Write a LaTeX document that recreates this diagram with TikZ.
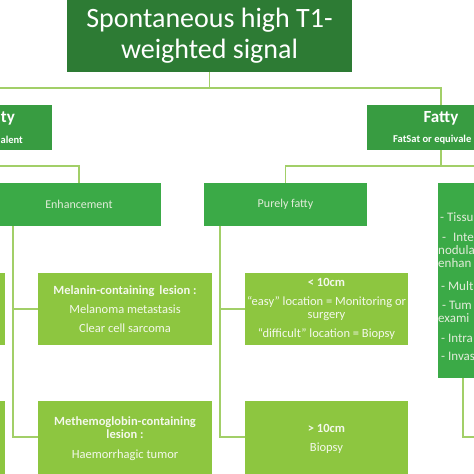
\documentclass[tikz,border=0pt]{standalone}
\usepackage{fontspec}
\setmainfont{Carlito}
\usepackage{xcolor}
\usepackage{tikz}
\usetikzlibrary{positioning}

\definecolor{titlegreen}{HTML}{2D7B34}
\definecolor{fatgreen}{HTML}{389C41}
\definecolor{midgreen}{HTML}{3BAA47}
\definecolor{lightgreen}{HTML}{8DC640}
\definecolor{linegreen}{HTML}{A2CF68}
\definecolor{softwhite}{HTML}{E2ECDA}
\definecolor{leafwhite}{HTML}{F4F8EC}

\begin{document}
\begin{tikzpicture}[
    x=1pt, y=-1pt,
    box/.style={rectangle, draw=none, inner sep=0pt, align=center},
    titlebox/.style={box, fill=titlegreen, minimum width=285pt, minimum height=72pt,
      text=white, font=\fontsize{28}{31}\selectfont},
    fatbox/.style={box, fill=fatgreen, minimum width=148pt, minimum height=45pt},
    stepbox/.style={box, fill=midgreen, minimum width=163pt, minimum height=43pt,
      text=softwhite, font=\fontsize{12}{14}\selectfont},
    leafbox/.style={box, fill=lightgreen, text=leafwhite,
      font=\fontsize{12.5}{13}\selectfont},
    link/.style={draw=linegreen, line width=1.6pt},
    headtext/.style={inner sep=0pt, text=white, font=\bfseries\fontsize{17}{20}\selectfont},
    subtext/.style={inner sep=0pt, text=white, font=\bfseries\fontsize{10.5}{12}\selectfont},
    cuttext/.style={inner sep=0pt, anchor=west, text=softwhite, font=\fontsize{13}{14}\selectfont},
  ]

  \useasboundingbox (0,0) rectangle (474,474);
  \clip (0,0) rectangle (474,474);

  % top level
  \node[titlebox] (title) at (209.5,36) {Spontaneous high T1-\\weighted signal};

  % second level
  \node[fatbox] (nonfatty) at (-22,127.5) {};
  \node[headtext, anchor=east] (nonfattyname) at (15,118) {ty};
  \node[subtext, anchor=east]  (nonfattysub)  at (23,140) {alent};

  \node[fatbox] (fatty) at (441,127.5) {};
  \node[headtext] (fattyname) at (441,118) {Fatty};
  \node[subtext, anchor=west] (fattysub) at (393,140) {FatSat or equivale};

  % third level
  \node[stepbox] (enh)  at (79,204.5)    {Enhancement};
  \node[stepbox] (pure) at (285.5,204.5) {Purely fatty};
  \node[box, fill=midgreen, minimum width=163pt, minimum height=195pt] (mixed) at (519.5,280.5) {};

  \node[cuttext] (mixa) at (440,217) {- Tissu};
  \node[cuttext] (mixb) at (442,237) {-\hspace{7pt}Inte};
  \node[cuttext] (mixc) at (438,250) {nodula};
  \node[cuttext] (mixd) at (438,263) {enhan};
  \node[cuttext] (mixe) at (441,286) {- Mult};
  \node[cuttext] (mixf) at (442,305) {- Tum};
  \node[cuttext] (mixg) at (438,318) {exami};
  \node[cuttext] (mixh) at (441,338) {- Intra};
  \node[cuttext] (mixi) at (441,356) {- Invas};

  % leaves
  \node[leafbox, minimum width=174pt, minimum height=72pt] (leftup)  at (-82,309)   {};
  \node[leafbox, minimum width=174pt, minimum height=75pt] (leftlow) at (-82,438.5) {};

  \node[leafbox, minimum width=174pt, minimum height=72pt] (melanin) at (125,309)
    {\textbf{Melanin-containing\, lesion :}\\[6pt]Melanoma metastasis\\[6pt]Clear cell sarcoma};
  \node[leafbox, minimum width=174pt, minimum height=75pt] (methemo) at (125,438.5)
    {\textbf{Methemoglobin-containing}\\\textbf{lesion :}\\[7pt]Haemorrhagic tumor};

  \node[leafbox, minimum width=163pt, minimum height=72pt] (small) at (326.5,309)
    {\textbf{< 10cm}\\[6pt]“easy” location = Monitoring or\\surgery\\[6pt]“difficult” location = Biopsy};
  \node[leafbox, minimum width=163pt, minimum height=75pt] (large) at (326.5,438.5)
    {\textbf{> 10cm}\\[6pt]Biopsy};

  \coordinate (mixedchild) at (490,437);

  % connectors
  \draw[link] (title.south) -- ++(0,16) -| (nonfatty.north);
  \draw[link] (title.south) -- ++(0,16) -| (fatty.north);
  \draw[link] (nonfatty.south) -- ++(0,16) -| (enh.north);
  \draw[link] (fatty.south) -- ++(0,16) -| (pure.north);
  \draw[link] (fatty.south) -- ++(0,16) -| (mixed.north);
  \draw[link] ([xshift=-66pt]enh.south) |- (melanin.west);
  \draw[link] ([xshift=-66pt]enh.south) |- ([yshift=1.5pt]methemo.west);
  \draw[link] ([xshift=-65.5pt]pure.south) |- (small.west);
  \draw[link] ([xshift=-65.5pt]pure.south) |- ([yshift=1.5pt]large.west);
  \draw[link] ([xshift=-56.5pt]mixed.south) |- (mixedchild);

\end{tikzpicture}
\end{document}
